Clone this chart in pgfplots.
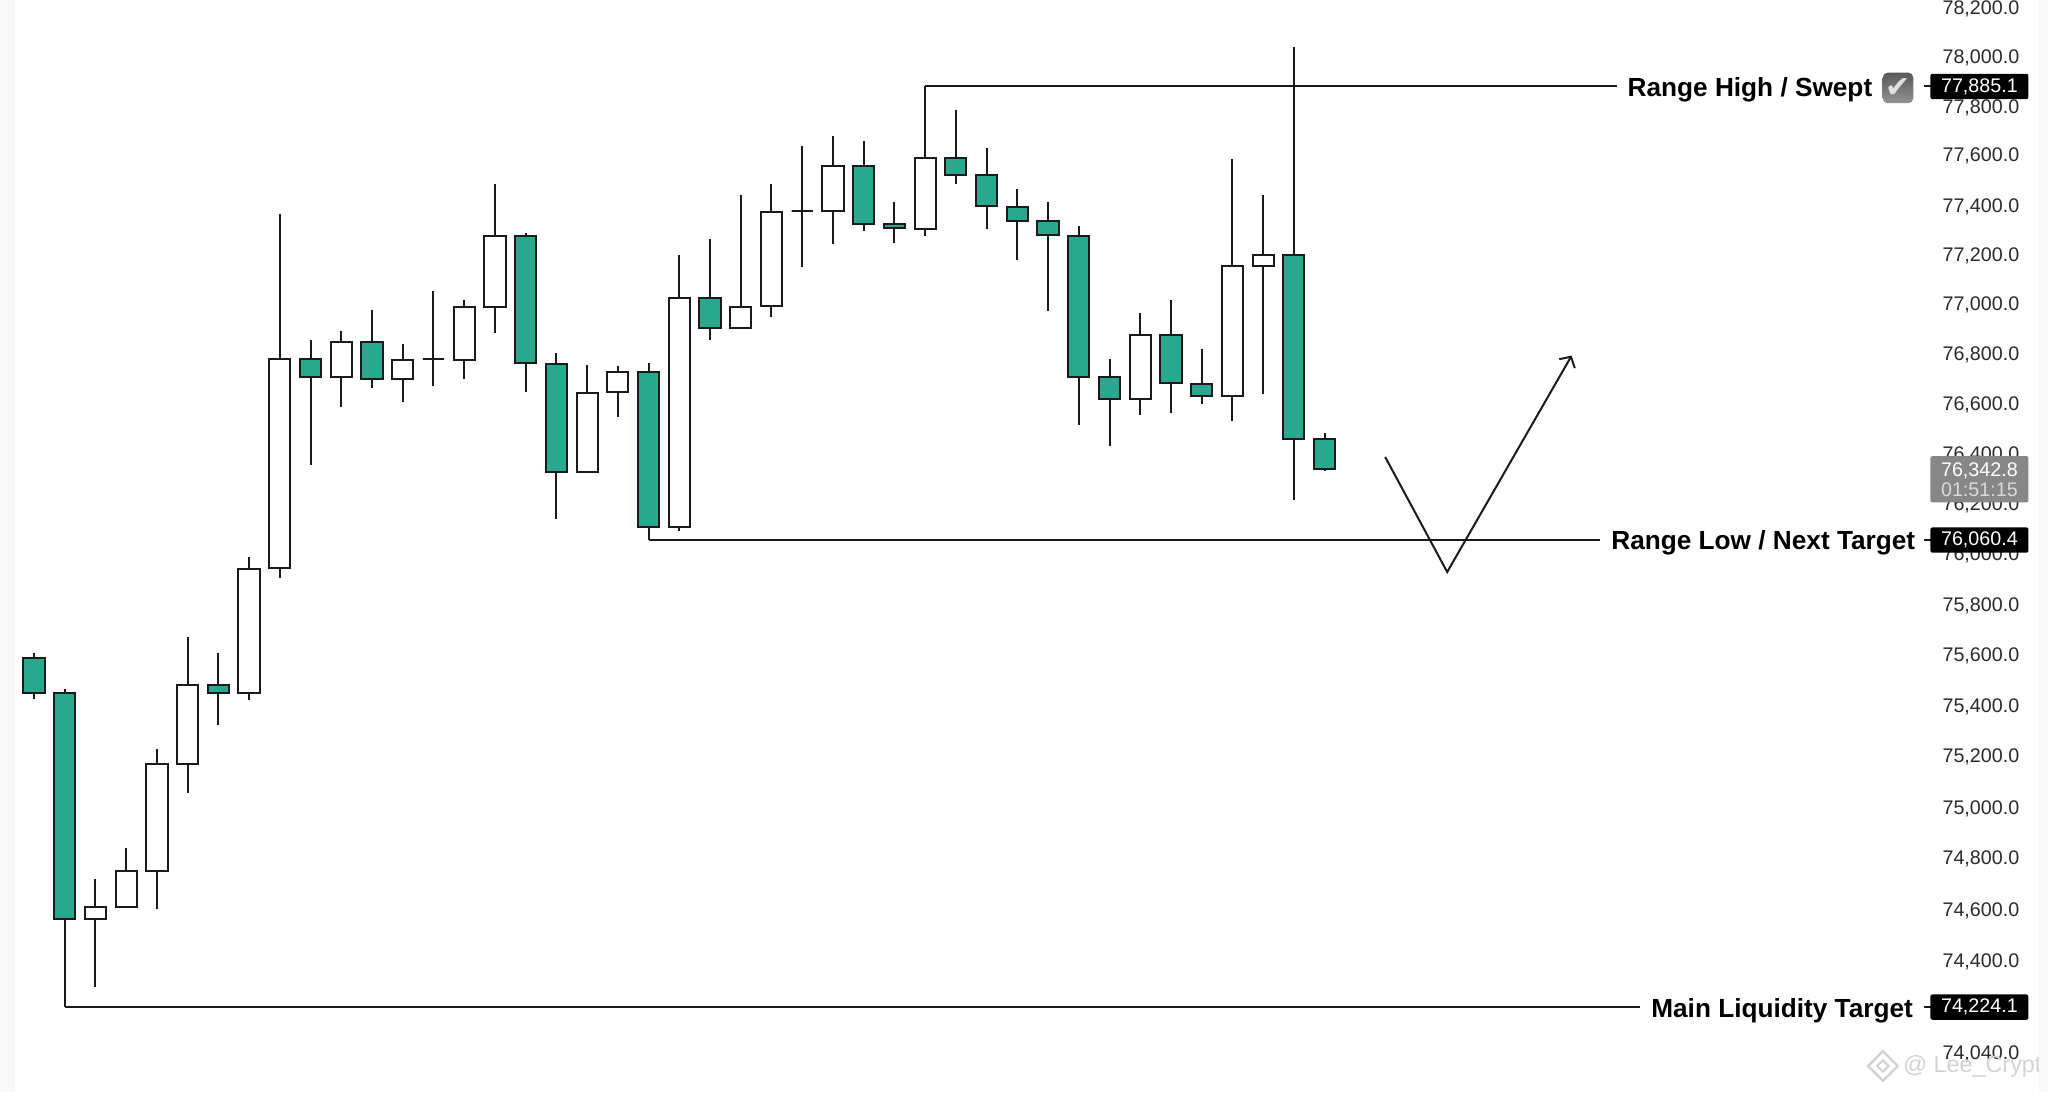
\documentclass[border=0pt]{standalone}
\usepackage{pgfplots}
\pgfplotsset{compat=1.18}
\usepackage{fontspec}
\setmainfont{Liberation Sans}
\newfontfamily\dejavu{DejaVu Sans}
\usetikzlibrary{arrows.meta}
\definecolor{cteal}{HTML}{2AA88E}
\definecolor{cink}{HTML}{1A1A1A}
\definecolor{ctick}{HTML}{2A2A2A}
\definecolor{cstrip}{HTML}{F8F8F8}
\definecolor{cmark}{HTML}{D2D2D2}
\newcommand{\candle}[6]{%
  \addplot[cink,line width=1pt,line cap=butt] coordinates {(#1,#4) (#1,#5)};
  \pgfmathsetmacro{\candL}{#1-0.345}\pgfmathsetmacro{\candR}{#1+0.345}%
  \addplot[draw=cink,fill=#6,line width=1pt,line join=miter] coordinates {(\candL,#2) (\candR,#2) (\candR,#3) (\candL,#3) (\candL,#2)} --cycle;
}
\begin{document}
\begin{tikzpicture}
\path[use as bounding box] (0,0) rectangle (1024pt,546pt);
\clip (0,0) rectangle (1024pt,546pt);
\begin{axis}[
  at={(0,0)},anchor=south west,
  scale only axis,width=1024pt,height=546pt,
  xmin=-1.1064,xmax=65.54,
  y coord trafo/.code={\begingroup\pgfkeys{/pgf/fpu=true,/pgf/fpu/output format=fixed}\pgfmathparse{19121*ln(#1/77885.1)}\pgfmathsmuggle\pgfmathresult\endgroup},
  ymin=73896.1,ymax=78239.05,
  clip=false,
  axis line style={draw=none},
  tick style={draw=none},
  minor tick num=0,
  xtick=\empty,
  yticklabel pos=right,
  ytick={74040,74400,74600,74800,75000,75200,75400,75600,75800,76000,76200,76400,76600,76800,77000,77200,77400,77600,77800,78000,78200},
  yticklabels={{74,040.0},{74,400.0},{74,600.0},{74,800.0},{75,000.0},{75,200.0},{75,400.0},{75,600.0},{75,800.0},{76,000.0},{76,200.0},{76,400.0},{76,600.0},{76,800.0},{77,000.0},{77,200.0},{77,400.0},{77,600.0},{77,800.0},{78,000.0},{78,200.0}},
  y tick label style={anchor=east,xshift=-14.15pt,yshift=0.1pt,text=ctick,inner sep=0pt,font=\fontsize{9.85}{11}\selectfont},
]
\fill[cstrip] (rel axis cs:0,0) rectangle (rel axis cs:0.00732,1);
% candles: index, body top, body bottom, high, low, fill
\candle{0}{75589.7}{75453.0}{75613.4}{75429.4}{cteal}
\candle{1}{75451.4}{74567.6}{75468.9}{74224.1}{cteal}
\candle{2}{74615.6}{74567.6}{74723.9}{74300.2}{white}
\candle{3}{74753.9}{74617.1}{74843.9}{74617.1}{white}
\candle{4}{75174.6}{74756.2}{75232.4}{74605.5}{white}
\candle{5}{75484.6}{75175.7}{75672.7}{75059.4}{white}
\candle{6}{75484.6}{75455.4}{75611.1}{75328.0}{cteal}
\candle{7}{75946.3}{75455.4}{75991.6}{75423.9}{white}
\candle{8}{76782.6}{75947.9}{77371.1}{75908.2}{white}
\candle{9}{76782.6}{76710.4}{76860.1}{76363.3}{cteal}
\candle{10}{76853.3}{76710.4}{76897.5}{76592.5}{white}
\candle{11}{76853.3}{76703.6}{76980.8}{76668.6}{cteal}
\candle{12}{76778.7}{76703.6}{76840.1}{76612.5}{white}
\candle{13}{76782.6}{76782.6}{77057.3}{76675.5}{white}
\candle{14}{76991.7}{76778.7}{77021.1}{76702.4}{white}
\candle{15}{77279.4}{76993.0}{77492.6}{76888.3}{white}
\candle{16}{77279.4}{76766.5}{77292.7}{76652.6}{cteal}
\candle{17}{76765.0}{76328.6}{76806.8}{76142.8}{cteal}
\candle{18}{76648.6}{76328.6}{76760.9}{76328.6}{white}
\candle{19}{76731.7}{76650.2}{76755.7}{76550.0}{white}
\candle{20}{76731.7}{76109.3}{76766.5}{76060.4}{cteal}
\candle{21}{77029.2}{76109.3}{77201.4}{76097.4}{white}
\candle{22}{77029.2}{76909.6}{77267.2}{76860.1}{cteal}
\candle{23}{76994.2}{76908.4}{77449.2}{76908.4}{white}
\candle{24}{77379.3}{76995.7}{77489.8}{76953.8}{white}
\candle{25}{77381.6}{77381.6}{77642.7}{77151.3}{white}
\candle{26}{77561.6}{77381.6}{77684.6}{77247.0}{white}
\candle{27}{77561.6}{77326.6}{77663.0}{77300.7}{cteal}
\candle{28}{77326.6}{77308.8}{77416.9}{77249.8}{cteal}
\candle{29}{77598.0}{77310.4}{77885.1}{77280.6}{white}
\candle{30}{77598.0}{77527.5}{77790.3}{77489.8}{cteal}
\candle{31}{77526.2}{77401.9}{77634.6}{77310.4}{cteal}
\candle{32}{77400.7}{77341.2}{77472.4}{77182.4}{cteal}
\candle{33}{77340.0}{77282.2}{77416.9}{76975.6}{cteal}
\candle{34}{77280.6}{76712.8}{77316.9}{76519.2}{cteal}
\candle{35}{76711.6}{76624.5}{76783.8}{76435.2}{cteal}
\candle{36}{76880.3}{76624.5}{76968.8}{76559.3}{white}
\candle{37}{76880.3}{76686.4}{77022.3}{76564.4}{cteal}
\candle{38}{76684.7}{76635.4}{76822.8}{76604.5}{cteal}
\candle{39}{77158.2}{76635.4}{77590.0}{76536.4}{white}
\candle{40}{77201.4}{77158.2}{77444.0}{76646.2}{white}
\candle{41}{77201.4}{76464.4}{78048.2}{76217.0}{cteal}
\candle{42}{76462.0}{76342.2}{76486.0}{76335.3}{cteal}
% level lines
\addplot[cink,line width=1pt] coordinates {(29,77885.1) (51.51,77885.1)};
\addplot[cink,line width=1pt] coordinates {(20,76060.4) (50.95,76060.4)};
\addplot[cink,line width=1pt] coordinates {(1,74224.1) (52.26,74224.1)};
\addplot[cink,line width=1pt] coordinates {(61.50,77885.1) (61.72,77885.1)};
\addplot[cink,line width=1pt] coordinates {(61.50,76060.4) (61.72,76060.4)};
\addplot[cink,line width=1pt] coordinates {(61.50,74224.1) (61.72,74224.1)};
% projected path
\addplot[cink,line width=1pt,line join=miter,-{Straight Barb[length=4pt,width=9pt]}] coordinates {(43.97,76392.5) (45.99,75932.0) (50.04,76797.1)};
% labels
\node[anchor=west,inner sep=0pt,yshift=-1.2pt,text=black,font=\fontsize{13.1}{15}\selectfont\bfseries] at (axis cs:51.85,77883) {Range High / Swept};
\node[anchor=west,inner sep=0pt,yshift=-1.2pt,text=black,font=\fontsize{13.1}{15}\selectfont\bfseries] at (axis cs:51.32,76058) {Range Low / Next Target};
\node[anchor=west,inner sep=0pt,yshift=-1.2pt,text=black,font=\fontsize{13.1}{15}\selectfont\bfseries] at (axis cs:52.62,74222) {Main Liquidity Target};
\node[rounded corners=2.5pt,top color=black!65,bottom color=black!42,minimum width=15.3pt,minimum height=15.3pt,inner sep=0pt,text=white!88!black,font=\dejavu\fontsize{15}{15}\selectfont] at (axis cs:60.66,77882) {✔};
% price boxes
\node[fill=black,rounded corners=1pt,minimum width=49pt,minimum height=12.65pt,inner sep=0pt,text=white,font=\fontsize{9.85}{11}\selectfont] at (axis cs:63.31,77885.1) {77,885.1};
\node[fill=black,rounded corners=1pt,minimum width=49pt,minimum height=12.65pt,inner sep=0pt,text=white,font=\fontsize{9.85}{11}\selectfont] at (axis cs:63.31,76060.4) {76,060.4};
\node[fill=black,rounded corners=1pt,minimum width=49pt,minimum height=12.65pt,inner sep=0pt,text=white,font=\fontsize{9.85}{11}\selectfont] at (axis cs:63.31,74224.1) {74,224.1};
\node[fill=black!47,rounded corners=1pt,minimum width=49pt,minimum height=23.2pt,inner sep=0pt,align=center,text=white,font=\fontsize{9.85}{10}\selectfont] at (axis cs:63.31,76302.8) {76,342.8\\\textcolor{white!85!black}{01:51:15}};
% watermark
\node[anchor=west,inner sep=0pt,text=cmark,font=\fontsize{11.7}{13}\selectfont] at (axis cs:60.82,73996.5) {@ Lee\_Crypt};
\node[draw=cmark,line width=1.2pt,rotate=45,minimum size=10.5pt,inner sep=0pt] at (axis cs:60.17,73996.5) {};
\node[draw=cmark,line width=1pt,rotate=45,minimum size=4pt,inner sep=0pt] at (axis cs:60.17,73996.5) {};
\fill[cstrip] (rel axis cs:0.9955,0) rectangle (rel axis cs:1,1);
\end{axis}
\end{tikzpicture}
\end{document}
